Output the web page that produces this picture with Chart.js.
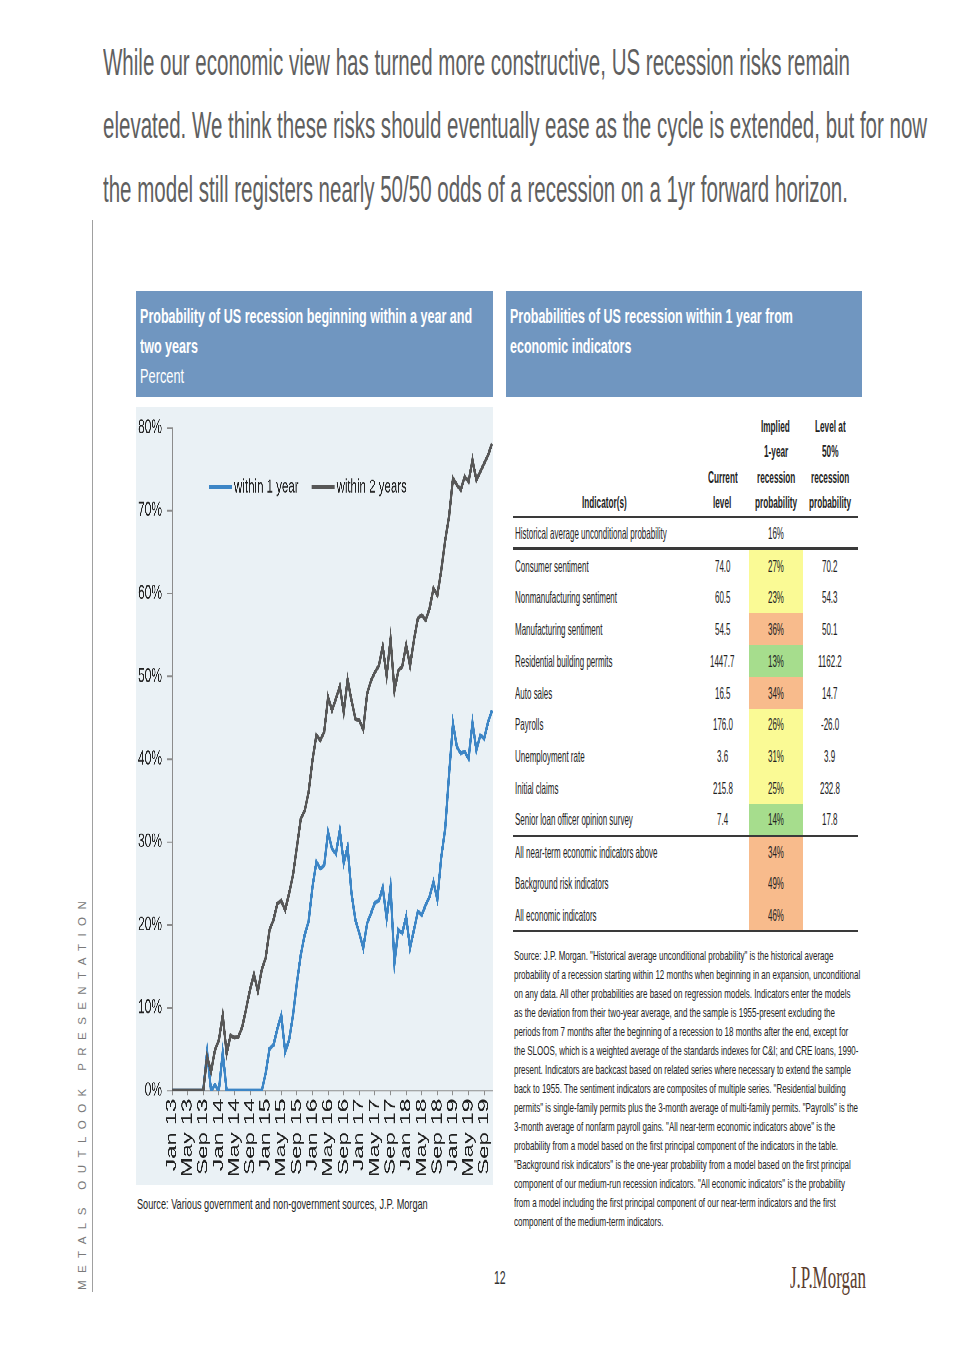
<!DOCTYPE html>
<html>
<head>
<meta charset="utf-8">
<script src="https://cdn.jsdelivr.net/npm/chart.js@4.4.0/dist/chart.umd.min.js"></script>
<style>
  html, body { margin: 0; padding: 0; background: #fff; }
  #page { position: relative; width: 960px; height: 1357px; overflow: hidden; }
  .t { position: absolute; white-space: nowrap; line-height: 1; transform-origin: 0 0; }
  .box { position: absolute; background: #7096c0; }
  .rule { position: absolute; background: #3a3a3a; }
  .cell { position: absolute; }
  #chartWrap { position: absolute; left: 136px; top: 407px; width: 357px; height: 486px;
    background: #eaf1f5; transform-origin: 0 0; }
</style>
</head>
<body>
<div id="page">
  <div class="box" style="left:136px;top:291px;width:357px;height:106px"></div>
  <div class="box" style="left:506px;top:291px;width:356px;height:106px"></div>
  <div style="position:absolute;left:92px;top:220px;width:1px;height:1072px;background:#a0a0a0"></div>
  <div id="chartWrap"><canvas id="chart" width="357" height="486"></canvas></div>
</div>
<script>
const NARROW = '"Liberation Sans Narrow", "Liberation Sans", Arial, sans-serif';
const SANS = '"Liberation Sans", Arial, sans-serif';

// chart data (monthly, Jan 13 - Nov 19)
const monthNames = ['Jan', 'Feb', 'Mar', 'Apr', 'May', 'Jun', 'Jul', 'Aug', 'Sep', 'Oct', 'Nov', 'Dec'];
const years = ['13', '14', '15', '16', '17', '18', '19'];
const tickLabels = ['Jan 13', 'May 13', 'Sep 13', 'Jan 14', 'May 14', 'Sep 14', 'Jan 15', 'May 15', 'Sep 15',
  'Jan 16', 'May 16', 'Sep 16', 'Jan 17', 'May 17', 'Sep 17', 'Jan 18', 'May 18', 'Sep 18', 'Jan 19', 'May 19', 'Sep 19'];
const within1Year = [0, 0, 0, 0, 0, 0, 0, 0, 0,
  4.7, 0, 0.7, 0, 4.6,
  0, 0, 0, 0, 0, 0, 0, 0, 0, 0,
  2.1, 5.1, 5.5, 7.5, 9.1, 4.7, 6.1, 9.1, 13.0, 16.4,
  18.8, 20.4, 24.6, 27.6, 26.8, 27.2, 31.2, 29.2, 28.6, 31.4,
  27.5, 29.4, 23.8, 20.6, 19.0, 17.2, 20.2, 21.4, 22.7, 22.9,
  24.5, 20.8, 24.6, 15.4, 19.4, 19.0, 21.0, 17.2, 19.4, 21.6,
  21.2, 22.4, 23.4, 25.2, 23.1, 28.2, 31.6, 38.2, 44.3, 41.5,
  40.7, 40.9, 40.1, 44.4, 41.1, 42.9, 42.5, 44.5, 45.9];
const within2Years = [0, 0, 0, 0, 0, 0, 0, 0, 0,
  4.1, 2.3, 4.9, 6.1, 9.1, 4.5, 6.7, 6.4, 6.5, 7.7,
  9.9, 12.2, 14.0, 12.0, 14.6, 16.0, 19.4, 20.6, 22.6, 22.9,
  21.8, 23.8, 26.0, 29.4, 32.8, 33.8, 36.0, 39.9, 42.9, 42.3,
  43.3, 47.5, 45.9, 47.3, 48.8, 45.7, 49.6, 47.1, 44.9, 44.7,
  43.6, 47.9, 49.5, 50.5, 51.3, 53.6, 50.1, 54.5, 48.3, 50.7,
  51.2, 53.8, 51.3, 54.4, 57.0, 57.4, 56.8, 58.2, 60.6, 59.8,
  62.8, 66.4, 69.3, 73.9, 73.1, 72.5, 74.1, 73.5, 76.1, 73.7,
  74.7, 75.7, 76.7, 78.1];

const months = [];
years.forEach((y) => monthNames.forEach((m) => months.push(`${m} ${y}`)));
months.length = within1Year.length;

// table data
const indicators = ['Consumer sentiment', 'Nonmanufacturing sentiment', 'Manufacturing sentiment',
  'Residential building permits', 'Auto sales', 'Payrolls', 'Unemployment rate', 'Initial claims',
  'Senior loan officer opinion survey'];
const currentLevel = ['74.0', '60.5', '54.5', '1447.7', '16.5', '176.0', '3.6', '215.8', '7.4'];
const impliedProb = [27, 23, 36, 13, 34, 26, 31, 25, 14];
const levelAt50 = ['70.2', '54.3', '50.1', '1162.2', '14.7', '-26.0', '3.9', '232.8', '17.8'];
const compositeLabels = ['All near-term economic indicators above', 'Background risk indicators', 'All economic indicators'];
const compositeProb = [34, 49, 46];
const historicalProb = 16;

const headingLines = [
  'While our economic view has turned more constructive, US recession risks remain',
  'elevated. We think these risks should eventually ease as the cycle is extended, but for now',
  'the model still registers nearly 50/50 odds of a recession on a 1yr forward horizon.',
];
const noteLines = [
  'Source: J.P. Morgan. "Historical average unconditional probability" is the historical average',
  'probability of a recession starting within 12 months when beginning in an expansion, unconditional',
  'on any data. All other probabilities are based on regression models. Indicators enter the models',
  'as the deviation from their two-year average, and the sample is 1955-present excluding the',
  'periods from 7 months after the beginning of a recession to 18 months after the end, except for',
  'the SLOOS, which is a weighted average of the standards indexes for C&I; and CRE loans, 1990-',
  'present. Indicators are backcast based on related series where necessary to extend the sample',
  'back to 1955. The sentiment indicators are composites of multiple series. "Residential building',
  'permits" is single-family permits plus the 3-month average of multi-family permits. "Payrolls" is the',
  '3-month average of nonfarm payroll gains. "All near-term economic indicators above" is the',
  'probability from a model based on the first principal component of the indicators in the table.',
  '"Background risk indicators" is the one-year probability from a model based on the first principal',
  'component of our medium-run recession indicators. "All economic indicators" is the probability',
  'from a model including the first principal component of our near-term indicators and the first',
  'component of the medium-term indicators.',
];

const page = document.getElementById('page');

function label(text, o) {
  const el = document.createElement('div');
  el.className = 't';
  el.textContent = text;
  el.style.fontSize = `${o.size}px`;
  el.style.fontFamily = o.family || NARROW;
  el.style.fontWeight = o.weight || 'normal';
  el.style.color = o.color || '#333';
  el.style.top = `${o.baseline - o.size * (o.asc || 0.846)}px`;
  if (o.spacing) el.style.letterSpacing = `${o.spacing}px`;
  page.appendChild(el);
  const w = el.offsetWidth;
  const k = o.width ? o.width / w : (o.k || 1);
  let x = o.x;
  if (o.align === 'center') x -= (w * k) / 2;
  if (o.align === 'right') x -= w * k;
  el.style.left = `${x}px`;
  el.style.transform = (o.rotate ? 'rotate(-90deg) ' : '') + `scaleX(${k})`;
  return { el, w, k };
}

function measure(text, size, family, weight) {
  const el = document.createElement('span');
  el.className = 't';
  el.style.fontSize = `${size}px`;
  el.style.fontFamily = family;
  el.style.fontWeight = weight || 'normal';
  el.textContent = text;
  page.appendChild(el);
  const w = el.offsetWidth;
  el.remove();
  return w;
}

// heading
const headWidths = [747, 824, 745];
headingLines.forEach((line, i) => {
  label(line, { x: 103, baseline: 75 + i * 63.5, size: 37, width: headWidths[i], color: '#5f5f5f' });
});

// side strip
label('METALS OUTLOOK PRESENTATION', {
  x: 76.7, baseline: 1290 + 10.5 * 0.846, size: 10.5, family: SANS, spacing: 6.8, width: 396, color: '#7a7a7a', rotate: true,
});

// panel headers
const lk = label('Probability of US recession beginning within a year and', {
  x: 140, baseline: 323, size: 20.5, weight: 'bold', width: 332, color: '#fff',
}).k;
label('two years', { x: 140, baseline: 353, size: 20.5, weight: 'bold', k: lk, color: '#fff' });
label('Percent', { x: 140, baseline: 383, size: 20.5, k: lk * 1.02, color: '#fff' });
const rk = label('Probabilities of US recession within 1 year from', {
  x: 510, baseline: 323, size: 20.5, weight: 'bold', width: 283, color: '#fff',
}).k;
label('economic indicators', { x: 510, baseline: 353, size: 20.5, weight: 'bold', k: rk, color: '#fff' });

// left source
label('Source: Various government and non-government sources, J.P. Morgan', {
  x: 137, baseline: 1209, size: 15, width: 291, color: '#222',
});

// right notes
const nk = 346 / measure(noteLines[1], 13, NARROW);
noteLines.forEach((line, i) => {
  label(line, { x: 514, baseline: 959.5 + i * 19.07, size: 13, k: nk, color: '#222' });
});

// footer
label('12', { x: 494, baseline: 1284, size: 18, width: 11.7, color: '#333' });
label('J.P.Morgan', {
  x: 790, baseline: 1288, size: 31, family: '"Liberation Serif", "DejaVu Serif", serif', asc: 0.838, width: 76, color: '#5c3d2e',
});

// table
const TF = 16.5;
const tk = 73.5 / measure('Consumer sentiment', TF, NARROW);
const colText = 515;
const colCur = 722.5;
const colProb = 776;
const colLvl = 830;
const probColor = (p) => (p < 20 ? '#a6dd8d' : p < 33 ? '#fafa95' : '#f8bb8c');
const cellText = (text, x, yc, align, size, weight) => label(text, {
  x, baseline: yc + (size || TF) * 0.358, size: size || TF, k: tk, align, weight, color: '#222',
});

function rect(cls, x, y, w, h, color) {
  const d = document.createElement('div');
  d.className = cls;
  Object.assign(d.style, { left: `${x}px`, top: `${y}px`, width: `${w}px`, height: `${h}px` });
  if (color) d.style.background = color;
  page.appendChild(d);
}

const headerRows = [426, 451.5, 477, 502];
cellText('Indicator(s)', 604.5, headerRows[3], 'center', 17, 'bold');
['Current', 'level'].forEach((s, i) => cellText(s, colCur, headerRows[2 + i], 'center', 17, 'bold'));
['Implied', '1-year', 'recession', 'probability'].forEach((s, i) => cellText(s, colProb, headerRows[i], 'center', 17, 'bold'));
['Level at', '50%', 'recession', 'probability'].forEach((s, i) => cellText(s, colLvl, headerRows[i], 'center', 17, 'bold'));

cellText('Historical average unconditional probability', colText, 533, 'left');
cellText(`${historicalProb}%`, colProb, 533, 'center');

const rowTop = 550;
const rowH = 31.7;
indicators.forEach((name, i) => {
  const top = rowTop + i * rowH;
  rect('cell', 749.3, top, 53.4, rowH + 0.5, probColor(impliedProb[i]));
  const yc = top + rowH / 2;
  cellText(name, colText, yc, 'left');
  cellText(currentLevel[i], colCur, yc, 'center');
  cellText(`${impliedProb[i]}%`, colProb, yc, 'center');
  cellText(levelAt50[i], colLvl, yc, 'center');
});
const compTop = 836;
const compH = 31.5;
compositeLabels.forEach((name, i) => {
  const top = compTop + i * compH;
  rect('cell', 749.3, top, 53.4, compH + 0.5, probColor(compositeProb[i]));
  const yc = top + compH / 2;
  cellText(name, colText, yc, 'left');
  cellText(`${compositeProb[i]}%`, colProb, yc, 'center');
});
rect('rule', 513, 516, 345, 1.6);
rect('rule', 513, 547, 345, 2.6);
rect('rule', 513, 834.5, 345, 2.6);
rect('rule', 513, 929.5, 345, 2.6);

// chart
const inlineLegend = {
  id: 'inlineLegend',
  afterDatasetsDraw(chart, args, opts) {
    const { ctx } = chart;
    ctx.save();
    ctx.font = `${opts.size}px ${SANS}`;
    ctx.textBaseline = 'middle';
    let x = opts.x;
    chart.data.datasets.forEach((ds) => {
      ctx.strokeStyle = ds.borderColor;
      ctx.lineWidth = opts.lineWidth;
      ctx.beginPath();
      ctx.moveTo(x, opts.y);
      ctx.lineTo(x + opts.boxWidth, opts.y);
      ctx.stroke();
      x += opts.boxWidth + 2;
      ctx.fillStyle = opts.color;
      ctx.fillText(ds.label, x, opts.y);
      x += ctx.measureText(ds.label).width + opts.gap;
    });
    ctx.restore();
  },
};

const S = 778 / 486;
document.getElementById('chartWrap').style.transform = `scaleY(${S})`;

new Chart(document.getElementById('chart'), {
  type: 'line',
  data: {
    labels: months,
    datasets: [
      { label: 'within 1 year', data: within1Year, borderColor: '#3d86c6', order: 2 },
      { label: 'within 2 years', data: within2Years, borderColor: '#575757', order: 1 },
    ],
  },
  options: {
    responsive: false,
    animation: false,
    devicePixelRatio: 3,
    layout: { padding: { top: 13, right: 1, left: 0, bottom: 0 } },
    elements: { point: { radius: 0 }, line: { borderWidth: 2.5, tension: 0 } },
    scales: {
      x: {
        grid: { drawOnChartArea: false, tickLength: 3, color: '#8c8c8c' },
        border: { color: '#8c8c8c' },
        ticks: {
          autoSkip: false,
          maxRotation: 90,
          minRotation: 90,
          padding: 2,
          color: '#222',
          font: { size: 15, family: SANS },
          callback(v) {
            const l = this.getLabelForValue(v);
            return tickLabels.includes(l) ? l : null;
          },
        },
        afterFit(scale) {
          scale.height = 58.9;
          scale.paddingLeft = 0;
          scale.paddingRight = 0;
        },
      },
      y: {
        min: 0,
        max: 80,
        grid: { drawOnChartArea: false, tickLength: 5, color: '#8c8c8c' },
        border: { color: '#8c8c8c' },
        ticks: {
          stepSize: 10, padding: 5, color: '#222', font: { size: 12, family: SANS }, callback: (v) => `${v}%`,
        },
        afterFit(scale) { scale.width = 36; },
      },
    },
    plugins: {
      legend: { display: false },
      tooltip: { enabled: false },
      inlineLegend: {
        x: 73, y: 50, boxWidth: 23, lineWidth: 2.6, gap: 13, size: 11.5, color: '#222',
      },
    },
  },
  plugins: [inlineLegend],
});
</script>
</body>
</html>
